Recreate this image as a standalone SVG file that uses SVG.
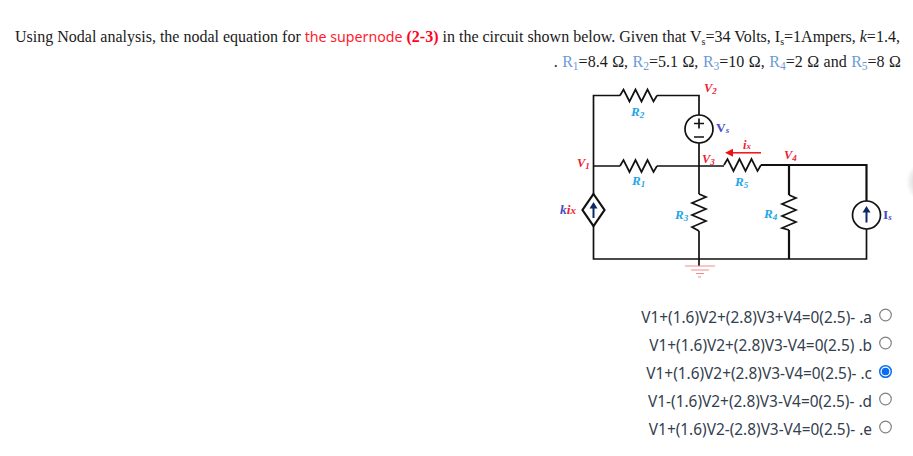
<svg xmlns="http://www.w3.org/2000/svg" width="913" height="456" viewBox="0 0 913 456">
<style>
.q{font:16px "Liberation Serif",serif;fill:#1a1a1a}
.s{font-family:"Noto Sans",sans-serif;fill:#ff1a2e}
.b{fill:#6a9bd8}
.o{font:15.4px "Noto Sans",sans-serif;fill:#33404d;text-anchor:end}
.w{fill:none;stroke:#111;stroke-width:1.7}
.h{fill:none;stroke:#111;stroke-width:2.2}
.n{font:italic bold 12.500px "Liberation Serif",serif;fill:#ee2233}
.r{font:italic bold 13px "Liberation Serif",serif;fill:#22a5e8}
.v{font:bold 13.500px "Liberation Serif",serif;fill:#4a4ac8}
.u{font-size:9px}
.rad{fill:#fff;stroke:#808080;stroke-width:1.2}
</style>
<defs>
<radialGradient id="sh"><stop offset="0.7" stop-color="#e4e4e4"/><stop offset="1" stop-color="#fff"/></radialGradient>
</defs>
<rect width="913" height="456" fill="#fff"/>
<circle cx="928" cy="182" r="22" fill="url(#sh)"/>
<g id="question">
<text class="q" x="15" y="42">Using Nodal analysis, the nodal equation for <tspan class="s" font-size="14.2">the supernode</tspan> <tspan font-weight="bold" fill="#ff0022">(2-3)</tspan> in the circuit shown below. Given that V<tspan font-size="10" dy="3">s</tspan><tspan dy="-3">=34 Volts, I</tspan><tspan font-size="10" dy="3">s</tspan><tspan dy="-3">=1Ampers, </tspan><tspan font-style="italic">k</tspan>=1.4,</text>
<text class="q" x="901" y="67" text-anchor="end" word-spacing="0.5">. <tspan class="b">R</tspan><tspan class="b" font-size="11.500" dy="3">1</tspan><tspan dy="-3">=8.4 Ω, </tspan><tspan class="b">R</tspan><tspan class="b" font-size="11.500" dy="3">2</tspan><tspan dy="-3">=5.1 Ω, </tspan><tspan class="b">R</tspan><tspan class="b" font-size="11.500" dy="3">3</tspan><tspan dy="-3">=10 Ω, </tspan><tspan class="b">R</tspan><tspan class="b" font-size="11.500" dy="3">4</tspan><tspan dy="-3">=2 Ω and </tspan><tspan class="b">R</tspan><tspan class="b" font-size="11.500" dy="3">5</tspan><tspan dy="-3">=8 Ω</tspan></text>
</g>
<g id="connectors">
<path class="w" d="M620 95.500H593.500V194M593.500 226V259H866.500V229M657 95.500H699V115M699 143V194M699 231V259M593.500 166H620M657 166H724"/>
<path class="h" d="M761 165H866.500V201M789 165V195M789 230V259"/>
<path d="M699 259V266" class="w"/>
</g>
<g id="R2"><path class="w" d="M620 95.500l3.500-6 6 12 6-12 6 12 6-12 6 12 3.500-6"/><text class="r" x="631" y="116">R<tspan class="u" dy="2">2</tspan></text></g>
<g id="R1"><path class="w" d="M620 166l3.500-6 6 12 6-12 6 12 6-12 6 12 3.500-6"/><text class="r" x="632" y="185">R<tspan class="u" dy="2">1</tspan></text></g>
<g id="R5"><path class="w" d="M724 165l3.500-6 6 12 6-12 6 12 6-12 6 12 3.500-6"/><text class="r" x="735" y="186">R<tspan class="u" dy="2">5</tspan></text></g>
<g id="R3"><path class="w" d="M699 194l7 3-14 6 14 6-14 6 14 6-14 6 7 4"/><text class="r" x="675" y="219">R<tspan class="u" dy="2">3</tspan></text></g>
<g id="R4"><path class="w" d="M789 195l7 3-14 6 14 6-14 6 14 6-14 6 7 2"/><text class="r" x="764" y="218">R<tspan class="u" dy="2">4</tspan></text></g>
<g id="Vs"><circle class="w" cx="699" cy="129" r="14" fill="#fff"/><path class="w" d="M694 123.500h10M699 118.500v10M694 137h10"/><text class="v" x="716" y="132">V<tspan class="u" font-style="italic" dy="1">s</tspan></text></g>
<g id="kix"><path d="M593.500 194L604.500 210L593.500 226L582.500 210z" fill="#fff" stroke="#111" stroke-width="2.200"/><path d="M593.500 202l-4 6.500h3v9.500h2v-9.500h3z" fill="#0a2a66"/><text x="560" y="214" font-family="Liberation Serif,serif" font-size="13.500" font-style="italic" font-weight="bold" fill="#4a4ac8">k<tspan fill="#ee2233">i</tspan><tspan fill="#ee2233" font-size="11">x</tspan></text></g>
<g id="Is"><circle class="w" cx="866.500" cy="215" r="14" fill="#fff"/><path d="M866.500 206l-4 6.500h3v10h2v-10h3z" fill="#0a2a66"/><text class="v" x="883" y="219">I<tspan class="u" font-style="italic" dy="1">s</tspan></text></g>
<g id="ground"><path stroke="#f28a8a" fill="none" d="M685 266h30M691 270h18M696 273.500h8M698 277h3"/></g>
<g id="labels">
<text class="n" x="704" y="92">V<tspan class="u" dy="2">2</tspan></text><text class="n" x="577" y="167">V<tspan class="u" dy="2">1</tspan></text><text class="n" x="702" y="163">V<tspan class="u" dy="2">3</tspan></text><text class="n" x="784" y="159">V<tspan class="u" dy="2">4</tspan></text>
<path d="M761 152.800H732" stroke="#ee1111" stroke-width="1.500"/><path d="M725 152.800l8-4v8z" fill="#ee1111"/><text class="n" x="743" y="149">i<tspan class="u">x</tspan></text>
</g>
<g id="options">
<text class="o" x="872" y="323">V1+(1.6)V2+(2.8)V3+V4=0(2.5)- .a</text>
<text class="o" x="872" y="351">V1+(1.6)V2+(2.8)V3-V4=0(2.5) .b</text>
<text class="o" x="872" y="379">V1+(1.6)V2+(2.8)V3-V4=0(2.5)- .c</text>
<text class="o" x="872" y="407">V1-(1.6)V2+(2.8)V3-V4=0(2.5)- .d</text>
<text class="o" x="872" y="435">V1+(1.6)V2-(2.8)V3-V4=0(2.5)- .e</text>
<circle class="rad" cx="885.500" cy="315" r="5.800"/><circle class="rad" cx="885.500" cy="343" r="5.800"/>
<circle cx="885.500" cy="371.500" r="5.800" fill="#fff" stroke="#0a6cf0" stroke-width="1.500"/><circle cx="885.500" cy="371.500" r="3.800" fill="#0a6cf0"/>
<circle class="rad" cx="885.500" cy="399" r="5.800"/><circle class="rad" cx="885.500" cy="427" r="5.800"/>
</g>
</svg>
